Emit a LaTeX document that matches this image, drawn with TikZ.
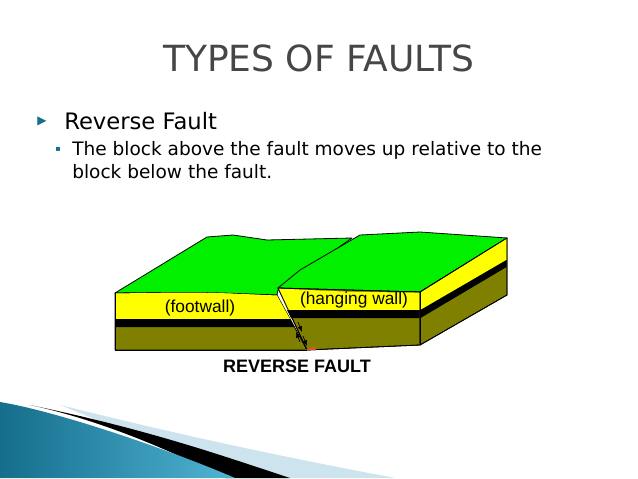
\documentclass[tikz,border=0pt]{standalone}
\usepackage{fontspec}
\setmainfont{DejaVu Sans}
\newfontfamily\arial{Liberation Sans}
\usetikzlibrary{shapes.geometric}
\begin{document}
\begin{tikzpicture}[x=0.75pt,y=-0.75pt,line join=round,
  face/.style={draw=black,line width=0.6pt},
  lbl/.style={font=\arial\fontsize{13}{15}\selectfont,inner sep=0pt}]
\definecolor{grn}{RGB}{0,240,0}
\definecolor{yel}{RGB}{255,255,0}
\definecolor{oli}{RGB}{128,128,0}
\definecolor{teal1}{RGB}{20,110,140}
\definecolor{teal2}{RGB}{80,180,210}
\definecolor{lblue}{RGB}{205,228,238}
\definecolor{ttl}{RGB}{70,70,70}
\useasboundingbox (0,0) rectangle (638,478);
\fill[white] (0,0) rectangle (638,478);
% swoosh
\fill[lblue] (60,405) .. controls (200,440) and (300,460) .. (395,478) -- (240,478) -- cycle;
\fill[black] (30,405) .. controls (150,430) and (220,455) .. (290,478) -- (225,478) .. controls (170,450) and (100,420) .. (30,405) -- cycle;
\shade[left color=teal1,right color=teal2] (0,402) .. controls (60,412) and (170,450) .. (235,478) -- (0,478) -- cycle;
% title and text
\node[font=\fontsize{27}{30}\selectfont,text=ttl] (title) at (319,58) {TYPES OF FAULTS};
\node[font=\fontsize{9}{10}\selectfont,text=teal1] (b1) at (42,121) {▶};
\node[anchor=west,font=\fontsize{17}{20}\selectfont,inner sep=0pt] (t1) at (64,121) {Reverse Fault};
\node[font=\fontsize{6}{7}\selectfont,text=teal1] (b2) at (58,149) {▪};
\node[anchor=west,align=left,font=\fontsize{13.9}{17.3}\selectfont,inner sep=0pt] (t2) at (72,160.5) {The block above the fault moves up relative to the\\block below the fault.};
% footwall
\fill[face,fill=grn] (115,293) -- (207,237) -- (233,235) -- (267,240) -- (352,238) -- (278,290) -- (277,295) .. controls (200,292) .. (115,293) -- cycle;
\fill[face,fill=oli] (115,293) -- (277,295) -- (307,350) -- (115,350) -- cycle;
\fill[yel] (115.5,293.5) .. controls (200,292) .. (277,295.5) -- (290,319) -- (115.5,319) -- cycle;
\fill[black] (115.5,319) -- (290,319) -- (294,327) -- (115.5,327) -- cycle;
\draw[line width=0.6pt] (115,293) -- (115,350) -- (307,350);
% hanging wall
\fill[face,fill=grn] (278,288) -- (300,270) -- (360,235) -- (420,232) -- (507,238) -- (420,292) .. controls (350,292) .. (278,288) -- cycle;
\fill[face,fill=oli] (278,288) -- (420,292) -- (420,345) -- (307,350) -- cycle;
\fill[yel] (278.5,288.5) .. controls (350,292) .. (419.5,292.5) -- (419.5,310) -- (287,310) -- cycle;
\fill[black] (287,310) -- (419.5,310) -- (419.5,318) -- (291,318) -- cycle;
\fill[face,fill=oli] (420,292) -- (507,238) -- (507,295) -- (420,345) -- cycle;
\fill[yel] (420.5,292.5) -- (506.5,238.5) -- (506.5,260) -- (420.5,310) -- cycle;
\fill[black] (420.5,310) -- (506.5,260) -- (506.5,267) -- (420.5,318) -- cycle;
\draw[line width=0.6pt] (278,288) -- (420,292) -- (507,238) -- (507,295) -- (420,345) -- (307,350) -- (278,288);
\draw[line width=0.6pt] (420,292) -- (420,345);
\fill[brown!70!red] (305,350) -- (315,346) -- (316,350) -- cycle;
% fault arrows
\draw[-latex,line width=0.5pt] (298,322) -- (302,332);
\draw[-latex,line width=0.5pt] (300,342) -- (296,332);
\draw[-latex,line width=0.5pt] (303,336) -- (307,346);
% labels
\node[lbl] (fw) at (200,308) {(footwall)};
\node[lbl] (hw) at (354,300) {(hanging wall)};
\node[font=\arial\bfseries\fontsize{13.5}{15}\selectfont,inner sep=0pt] (cap) at (297,366) {REVERSE FAULT};
\end{tikzpicture}
\end{document}
